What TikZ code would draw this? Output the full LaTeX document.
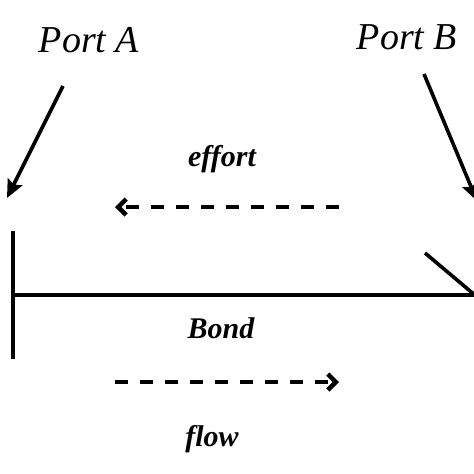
\documentclass[tikz,border=0pt]{standalone}
\usepackage{fontspec}
\setmainfont{Liberation Serif}
\usetikzlibrary{arrows.meta}
\begin{document}
\begin{tikzpicture}[x=1pt,y=-1pt,
  line/.style={line width=3.6pt},
  solidarrow/.style={line, -{Stealth[length=18pt,width=16pt,inset=3pt]}},
  dasharrow/.style={line, dash pattern=on 13pt off 12pt, -{Straight Barb[length=8pt,width=16pt,line width=4.5pt]}},
  portlabel/.style={font=\fontsize{38}{40}\selectfont\itshape, anchor=base, inner sep=0pt},
  biglabel/.style={font=\fontsize{30}{32}\selectfont\bfseries\itshape, anchor=base, inner sep=0pt}]
\useasboundingbox (0,0) rectangle (474,474);
\fill[white] (0,0) rectangle (474,474);
% labels
\node[portlabel] (pa) at (89,52) {Port A};
\node[portlabel] (pb) at (407,49) {Port B};
\node[biglabel] (ef) at (222,166) {effort};
\node[biglabel] (bd) at (221,338) {Bond};
\node[biglabel] (fl) at (212,446) {flow};
% coordinates
\coordinate (a1) at (63,86);
\coordinate (a2) at (7,198);
\coordinate (b1) at (424,74);
\coordinate (b2) at (477,201);
\coordinate (vt) at (13,231);
\coordinate (vb) at (13,359);
\coordinate (bl) at (13,295);
\coordinate (br) at (476,295);
\coordinate (h1) at (425,253);
\coordinate (h2) at (476,296);
\coordinate (e1) at (339,207);
\coordinate (e2) at (115,207);
\coordinate (f1) at (115,382);
\coordinate (f2) at (339,382);
% drawing
\draw[solidarrow] (a1) -- (a2);
\draw[solidarrow] (b1) -- (b2);
\draw[line] (vt) -- (vb);
\draw[line] (bl) -- (br);
\draw[line] (h1) -- (h2);
\draw[dasharrow] (e1) -- (e2);
\draw[dasharrow] (f1) -- (f2);
\end{tikzpicture}
\end{document}
